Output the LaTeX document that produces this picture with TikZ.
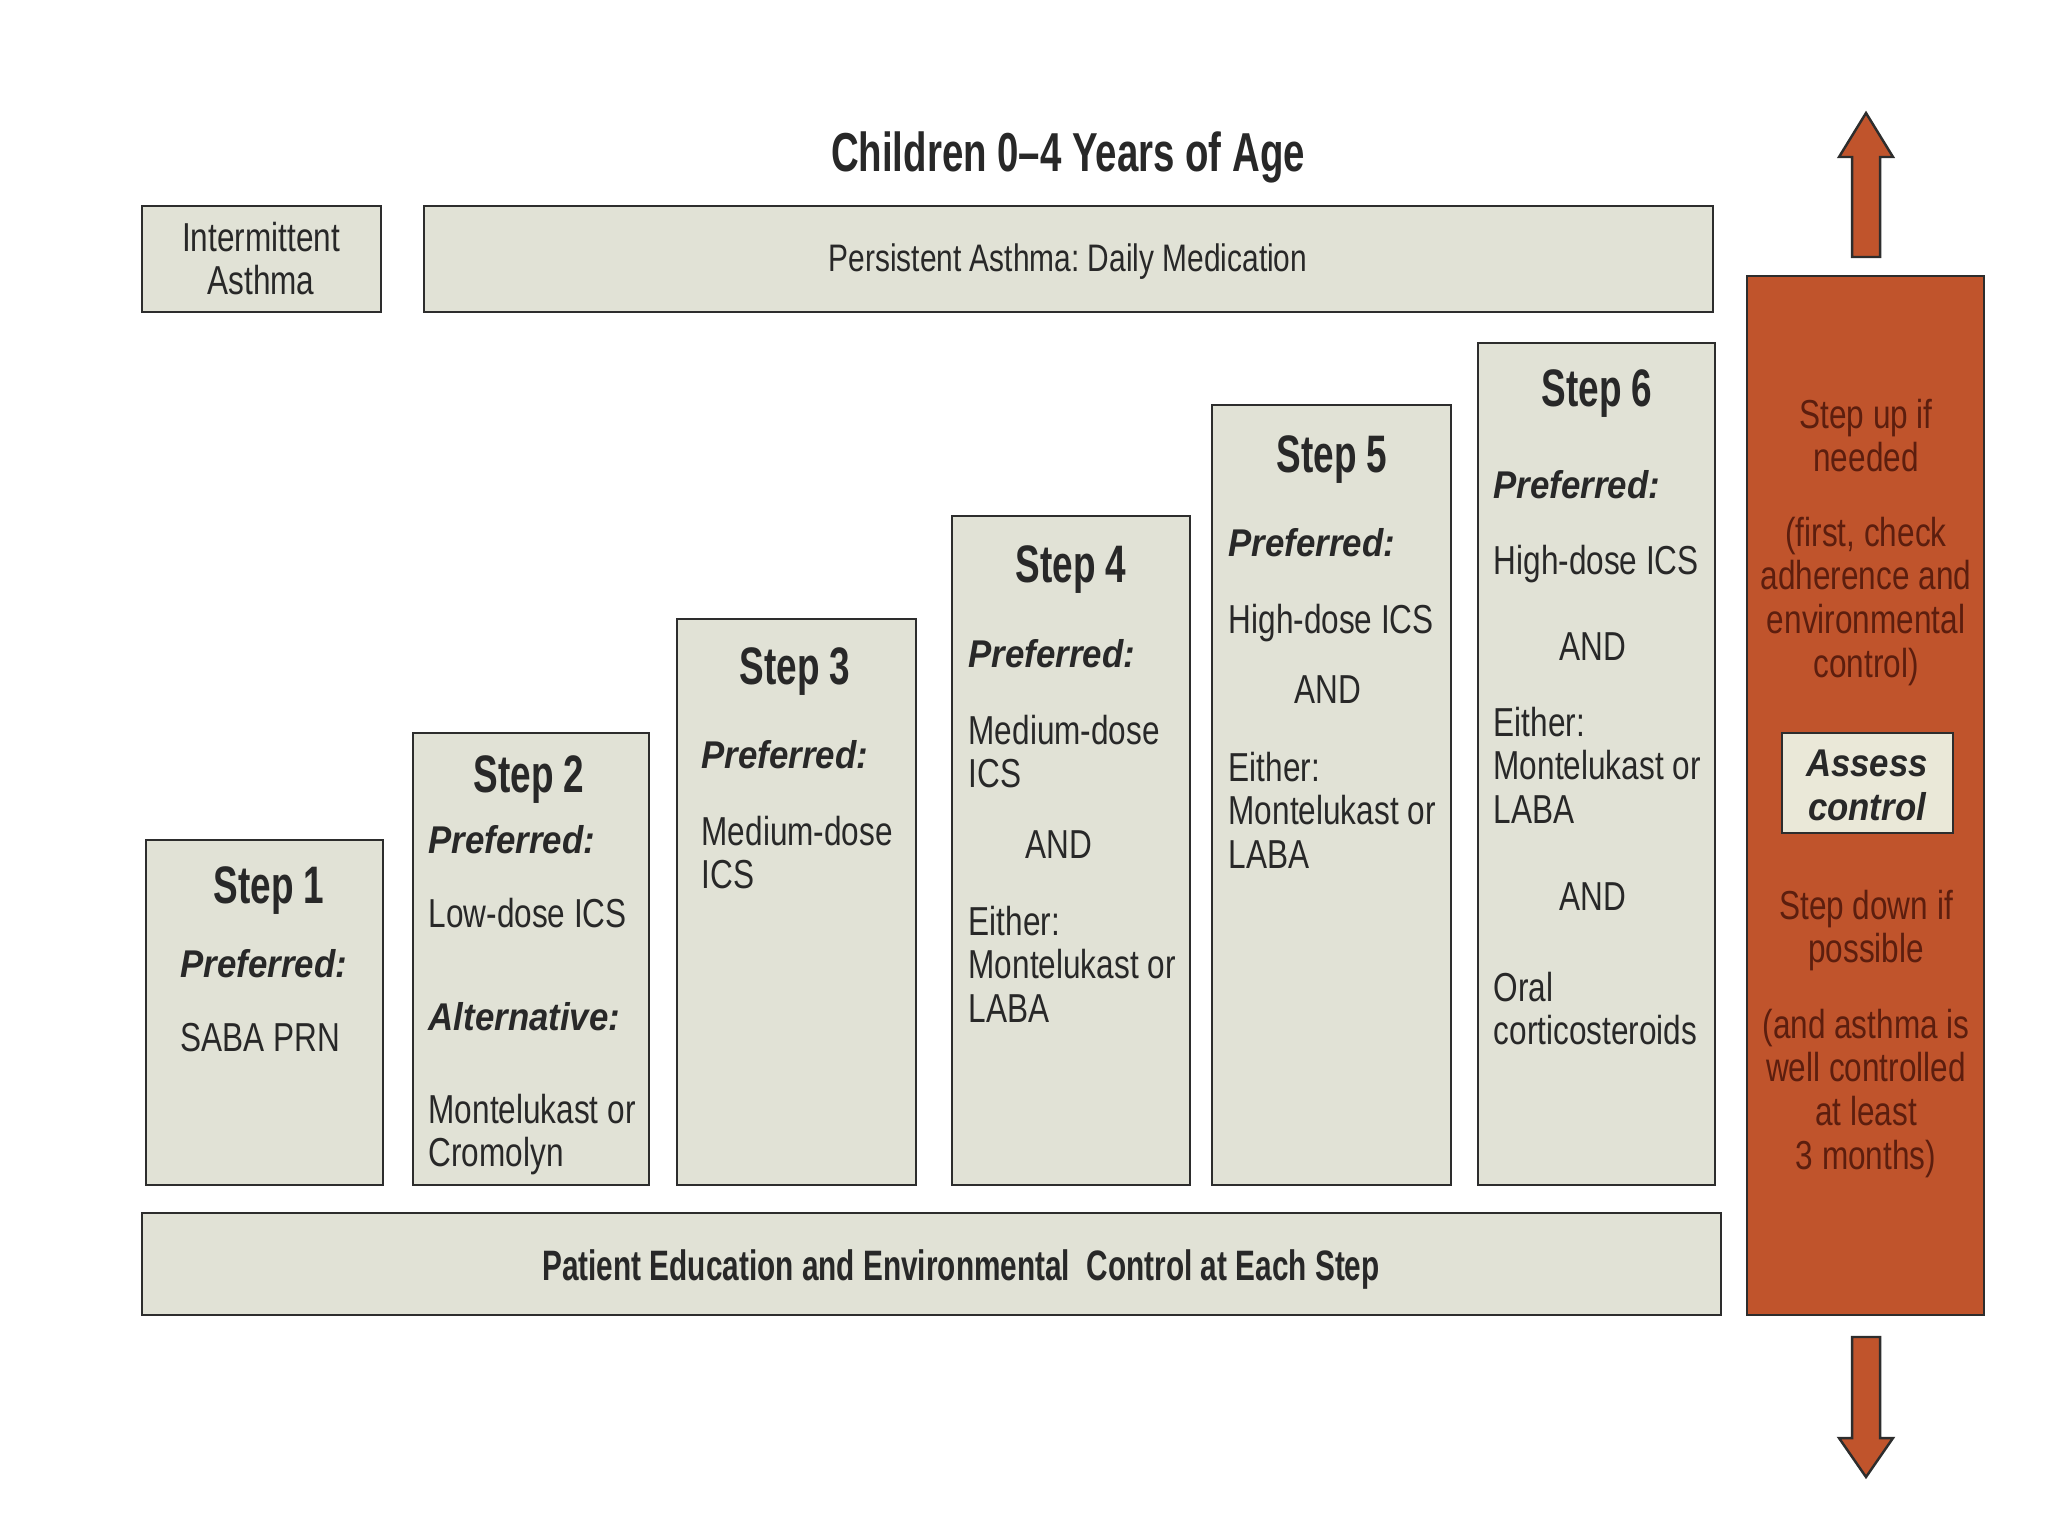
\documentclass[tikz,border=0pt]{standalone}
\usepackage{fontspec}
\setmainfont{Liberation Sans}[FakeStretch=0.78]
\newfontfamily\headfont{Liberation Sans}[FakeStretch=0.7]
\newfontfamily\prefont{Liberation Sans}[FakeStretch=0.9]
\definecolor{boxgray}{RGB}{225,226,214}
\definecolor{edgegray}{RGB}{45,45,45}
\definecolor{textgray}{RGB}{40,40,40}
\definecolor{rust}{RGB}{192,84,44}
\definecolor{rustdark}{RGB}{92,30,14}
\definecolor{assessbg}{RGB}{234,232,216}
\newcommand{\bodyfont}{\fontsize{11.5}{12.5}\selectfont}
\frenchspacing

\begin{document}
\begin{tikzpicture}[x=0.01cm, y=-0.01cm,
    box/.style={draw=edgegray, line width=0.8pt, fill=boxgray},
    txt/.style={inner sep=0pt, anchor=north west, align=left, text=textgray, font=\bodyfont},
    midtxt/.style={txt, anchor=north, align=center},
    pref/.style={txt, font=\prefont\bfseries\itshape\fontsize{11}{12.5}\selectfont},
    steptitle/.style={midtxt, font=\headfont\bfseries\fontsize{15}{17}\selectfont},
    rusttxt/.style={midtxt, text=rustdark}]
\useasboundingbox (0,0) rectangle (2048,1536);

% header
\node[midtxt, font=\headfont\bfseries\fontsize{15.6}{18}\selectfont] (title) at (1068,131) {Children 0–4 Years of Age};
\draw[box] (142,206) rectangle (381,312);
\node[midtxt] (intermit) at (261,221) {Intermittent\\Asthma};
\draw[box] (424,206) rectangle (1713,312);
\node[midtxt, font=\fontsize{10.9}{12.5}\selectfont] (persist) at (1068,243) {Persistent Asthma: Daily Medication};

% step 1
\draw[box] (146,840) rectangle (383,1185);
\node[steptitle] (s1title) at (269,866) {Step 1};
\node[pref] (s1pref) at (180,949) {Preferred:};
\node[txt] (s1drug) at (180,1023) {SABA PRN};

% step 2
\draw[box] (413,733) rectangle (649,1185);
\node[steptitle] (s2title) at (529,755) {Step 2};
\node[pref] (s2pref) at (428,825) {Preferred:};
\node[txt] (s2drug) at (428,897) {Low-dose ICS};
\node[pref] (s2alt) at (428,1002) {Alternative:};
\node[txt] (s2altdrug) at (428,1093) {Montelukast or\\Cromolyn};

% step 3
\draw[box] (677,619) rectangle (916,1185);
\node[steptitle] (s3title) at (795,647) {Step 3};
\node[pref] (s3pref) at (701,740) {Preferred:};
\node[txt] (s3drug) at (701,815) {Medium-dose\\ICS};

% step 4
\draw[box] (952,516) rectangle (1190,1185);
\node[steptitle] (s4title) at (1071,545) {Step 4};
\node[pref] (s4pref) at (968,639) {Preferred:};
\node[txt] (s4drug) at (968,714) {Medium-dose\\ICS};
\node[midtxt] (s4and) at (1059,830) {AND};
\node[txt] (s4either) at (968,905) {Either:\\Montelukast or\\LABA};

% step 5
\draw[box] (1212,405) rectangle (1451,1185);
\node[steptitle] (s5title) at (1332,435) {Step 5};
\node[pref] (s5pref) at (1228,528) {Preferred:};
\node[txt] (s5drug) at (1228,603) {High-dose ICS};
\node[midtxt] (s5and) at (1328,675) {AND};
\node[txt] (s5either) at (1228,751) {Either:\\Montelukast or\\LABA};

% step 6
\draw[box] (1478,343) rectangle (1715,1185);
\node[steptitle] (s6title) at (1597,369) {Step 6};
\node[pref] (s6pref) at (1493,470) {Preferred:};
\node[txt] (s6drug) at (1493,544) {High-dose ICS};
\node[midtxt] (s6and) at (1593,632) {AND};
\node[txt] (s6either) at (1493,706) {Either:\\Montelukast or\\LABA};
\node[midtxt] (s6and2) at (1593,882) {AND};
\node[txt] (s6oral) at (1493,971) {Oral\\corticosteroids};

% bottom bar
\draw[box] (142,1213) rectangle (1721,1315);
\node[midtxt, font=\headfont\bfseries\fontsize{12.1}{14}\selectfont] (educ) at (961,1249) {Patient Education and Environmental\ \ Control at Each Step};

% step up / step down column
\draw[draw=edgegray, line width=0.8pt, fill=rust] (1747,276) rectangle (1984,1315);
\draw[draw=edgegray, line width=0.7pt, fill=rust] (1852,257) -- (1852,157) -- (1839,157) -- (1866,113)
    -- (1893,157) -- (1880,157) -- (1880,257) -- cycle;
\draw[draw=edgegray, line width=0.7pt, fill=rust] (1852,1337) -- (1852,1438) -- (1839,1438) -- (1866,1477)
    -- (1893,1438) -- (1880,1438) -- (1880,1337) -- cycle;
\node[rusttxt] (stepup) at (1866,398) {Step up if\\needed};
\node[rusttxt] (check) at (1866,516) {(first, check\\adherence and\\environmental\\control)};
\draw[draw=edgegray, line width=0.8pt, fill=assessbg] (1782,733) rectangle (1953,833);
\node[midtxt, font=\prefont\bfseries\itshape\fontsize{11}{12.5}\selectfont] (assess) at (1867,749) {Assess\\control};
\node[rusttxt] (stepdown) at (1866,889) {Step down if\\possible};
\node[rusttxt] (months) at (1866,1008) {(and asthma is\\well controlled\\at least\\3 months)};
\end{tikzpicture}
\end{document}
